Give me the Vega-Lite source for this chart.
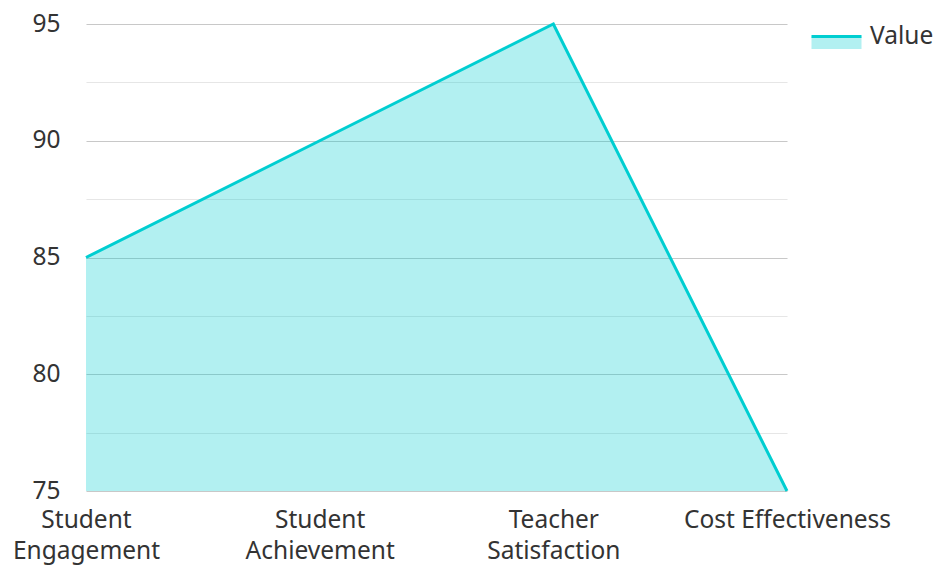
{
  "$schema": "https://vega.github.io/schema/vega-lite/v6.json",
  "width": 701,
  "height": 467,
  "autosize": {"type": "none"},
  "padding": {"left": 86, "top": 24, "right": 149, "bottom": 75},
  "config": {"font": "Noto Sans", "view": {"stroke": null}},
  "data": {
    "values": [
      {"metric": "Student Engagement", "value": 85},
      {"metric": "Student Achievement", "value": 90},
      {"metric": "Teacher Satisfaction", "value": 95},
      {"metric": "Cost Effectiveness", "value": 75}
    ]
  },
  "encoding": {
    "x": {
      "field": "metric",
      "type": "ordinal",
      "sort": null,
      "scale": {"type": "point", "padding": 0},
      "axis": {
        "title": null,
        "labelAngle": 0,
        "ticks": false,
        "domain": false,
        "grid": false,
        "labelFontSize": 24.5,
        "labelColor": "#333333",
        "labelPadding": 17,
        "labelLineHeight": 31,
        "labelLimit": 400,
        "labelOverlap": false,
        "labelExpr": "datum.label == 'Cost Effectiveness' ? datum.label : split(datum.label, ' ')"
      }
    },
    "y": {
      "field": "value",
      "type": "quantitative",
      "scale": {"domain": [75, 95], "nice": false, "zero": false},
      "axis": {
        "title": null,
        "values": [75, 77.5, 80, 82.5, 85, 87.5, 90, 92.5, 95],
        "ticks": false,
        "domain": false,
        "grid": true,
        "gridColor": {"condition": {"test": "datum.value % 5 === 0", "value": "#c8c8c8"}, "value": "#e6e6e6"},
        "gridWidth": 1.2,
        "labelExpr": "datum.value % 5 === 0 ? datum.label : ''",
        "labelFontSize": 24.5,
        "labelColor": "#333333",
        "labelPadding": 26
      }
    }
  },
  "layer": [
    {
      "mark": {"type": "area", "opacity": 0.3, "color": "#00CED1"},
      "encoding": {
        "y2": {"datum": 75}
      }
    },
    {
      "mark": {"type": "line", "strokeWidth": 3},
      "encoding": {
        "stroke": {
          "datum": "Value",
          "scale": {"range": ["#00CED1"]},
          "legend": {
            "title": null,
            "orient": "none",
            "legendX": 724,
            "legendY": -14,
            "symbolType": "M-1,0 H1 V0.5 H-1 Z",
            "symbolSize": 2500,
            "symbolStrokeWidth": 3,
            "symbolDash": [50, 1000],
            "symbolFillColor": "#b2f0f1",
            "labelFontSize": 24.5,
            "labelOffset": 7,
            "labelColor": "#333333",
            "encode": {
              "symbols": {
                "update": {
                  "fill": {"value": "#b2f0f1"},
                  "stroke": {"value": "#00CED1"},
                  "strokeDash": {"value": [50, 1000]},
                  "opacity": {"value": 1}
                }
              }
            }
          }
        }
      }
    }
  ]
}
